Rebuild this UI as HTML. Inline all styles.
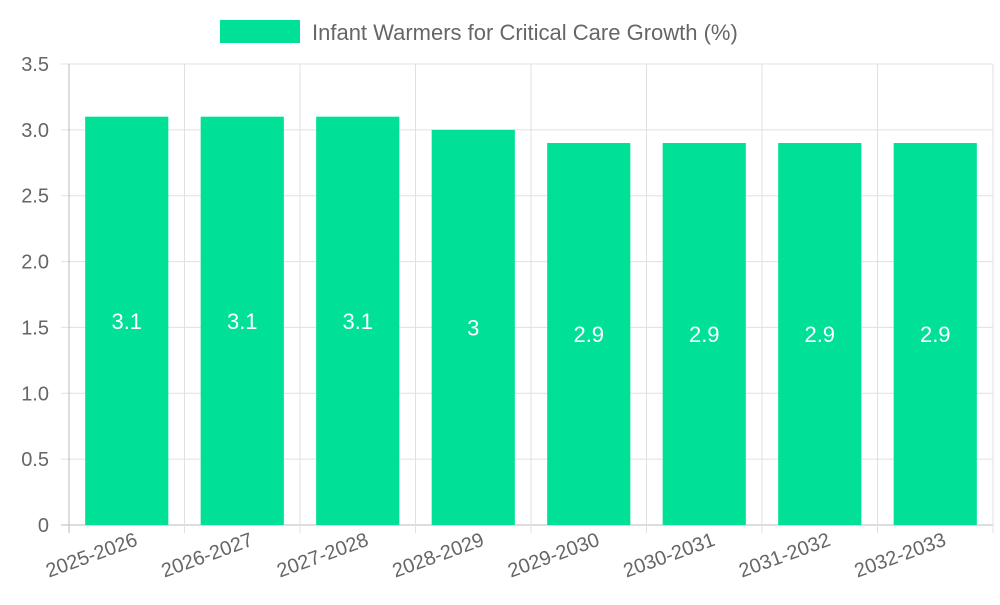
<!DOCTYPE html>
<html><head><meta charset="utf-8"><style>
body{margin:0;background:#fff;}
svg text{font-family:"Liberation Sans",sans-serif;}
</style></head><body>
<svg id="chart" width="1000" height="600">
<g>
<rect x="220" y="20" width="80" height="23" fill="#00e096"/>
<text x="312" y="40" font-size="22" fill="#666">Infant Warmers for Critical Care Growth (%)</text>
</g>
<g id="grid"></g>
<g id="bars"></g>
<g id="axes"></g>
</svg>
<script>
const categories=["2025-2026","2026-2027","2027-2028","2028-2029","2029-2030","2030-2031","2031-2032","2032-2033"];
const values=[3.1,3.1,3.1,3,2.9,2.9,2.9,2.9];
const yTicks=[0,0.5,1,1.5,2,2.5,3,3.5];
const yTickLabels=["0","0.5","1.0","1.5","2.0","2.5","3.0","3.5"];
const NS="http://www.w3.org/2000/svg";
const L=69,R=993,T=64,B=525,yMax=3.5;
const band=(R-L)/categories.length;
const y=v=>B-(v/yMax)*(B-T);
const x=i=>L+i*band;
function mk(tag,attrs,parent){const e=document.createElementNS(NS,tag);for(const k in attrs)e.setAttribute(k,attrs[k]);parent.appendChild(e);return e;}
const grid=document.getElementById('grid'),bars=document.getElementById('bars'),axes=document.getElementById('axes');
yTicks.forEach((t,i)=>{
  const g=mk('line',{x1:L-8,x2:R,y1:y(t),y2:y(t),stroke:i==0?'#bbb':'#e0e0e0','stroke-width':1},grid);
  
  
  const tx=mk('text',{x:L-20,y:y(t)+7,'text-anchor':'end','font-size':20,fill:'#666'},axes);
  tx.textContent=yTickLabels[i];
  
  
});
for(let i=0;i<=categories.length;i++){
  const g=mk('line',{x1:x(i),x2:x(i),y1:T,y2:B+8,stroke:i==0?'#bbb':'#e0e0e0','stroke-width':1},grid);
  
  
}
categories.forEach((c,i)=>{
  const cx=x(i)+band/2,bw=band*0.72;
  const r=mk('rect',{x:cx-bw/2,y:y(values[i]),width:bw,height:B-y(values[i]),fill:'#00e096'},bars);
  
  
  const v=mk('text',{x:cx,y:(y(values[i])+B)/2+8,'text-anchor':'middle','font-size':22,fill:'#fff'},bars);
  v.textContent=String(values[i]);
  
  
  const t=mk('text',{x:cx+12,y:545,'text-anchor':'end','font-size':20,fill:'#666',transform:`rotate(-20 ${cx+12} 545)`},axes);
  t.textContent=c;
  
  
});
</script>
</body></html>
